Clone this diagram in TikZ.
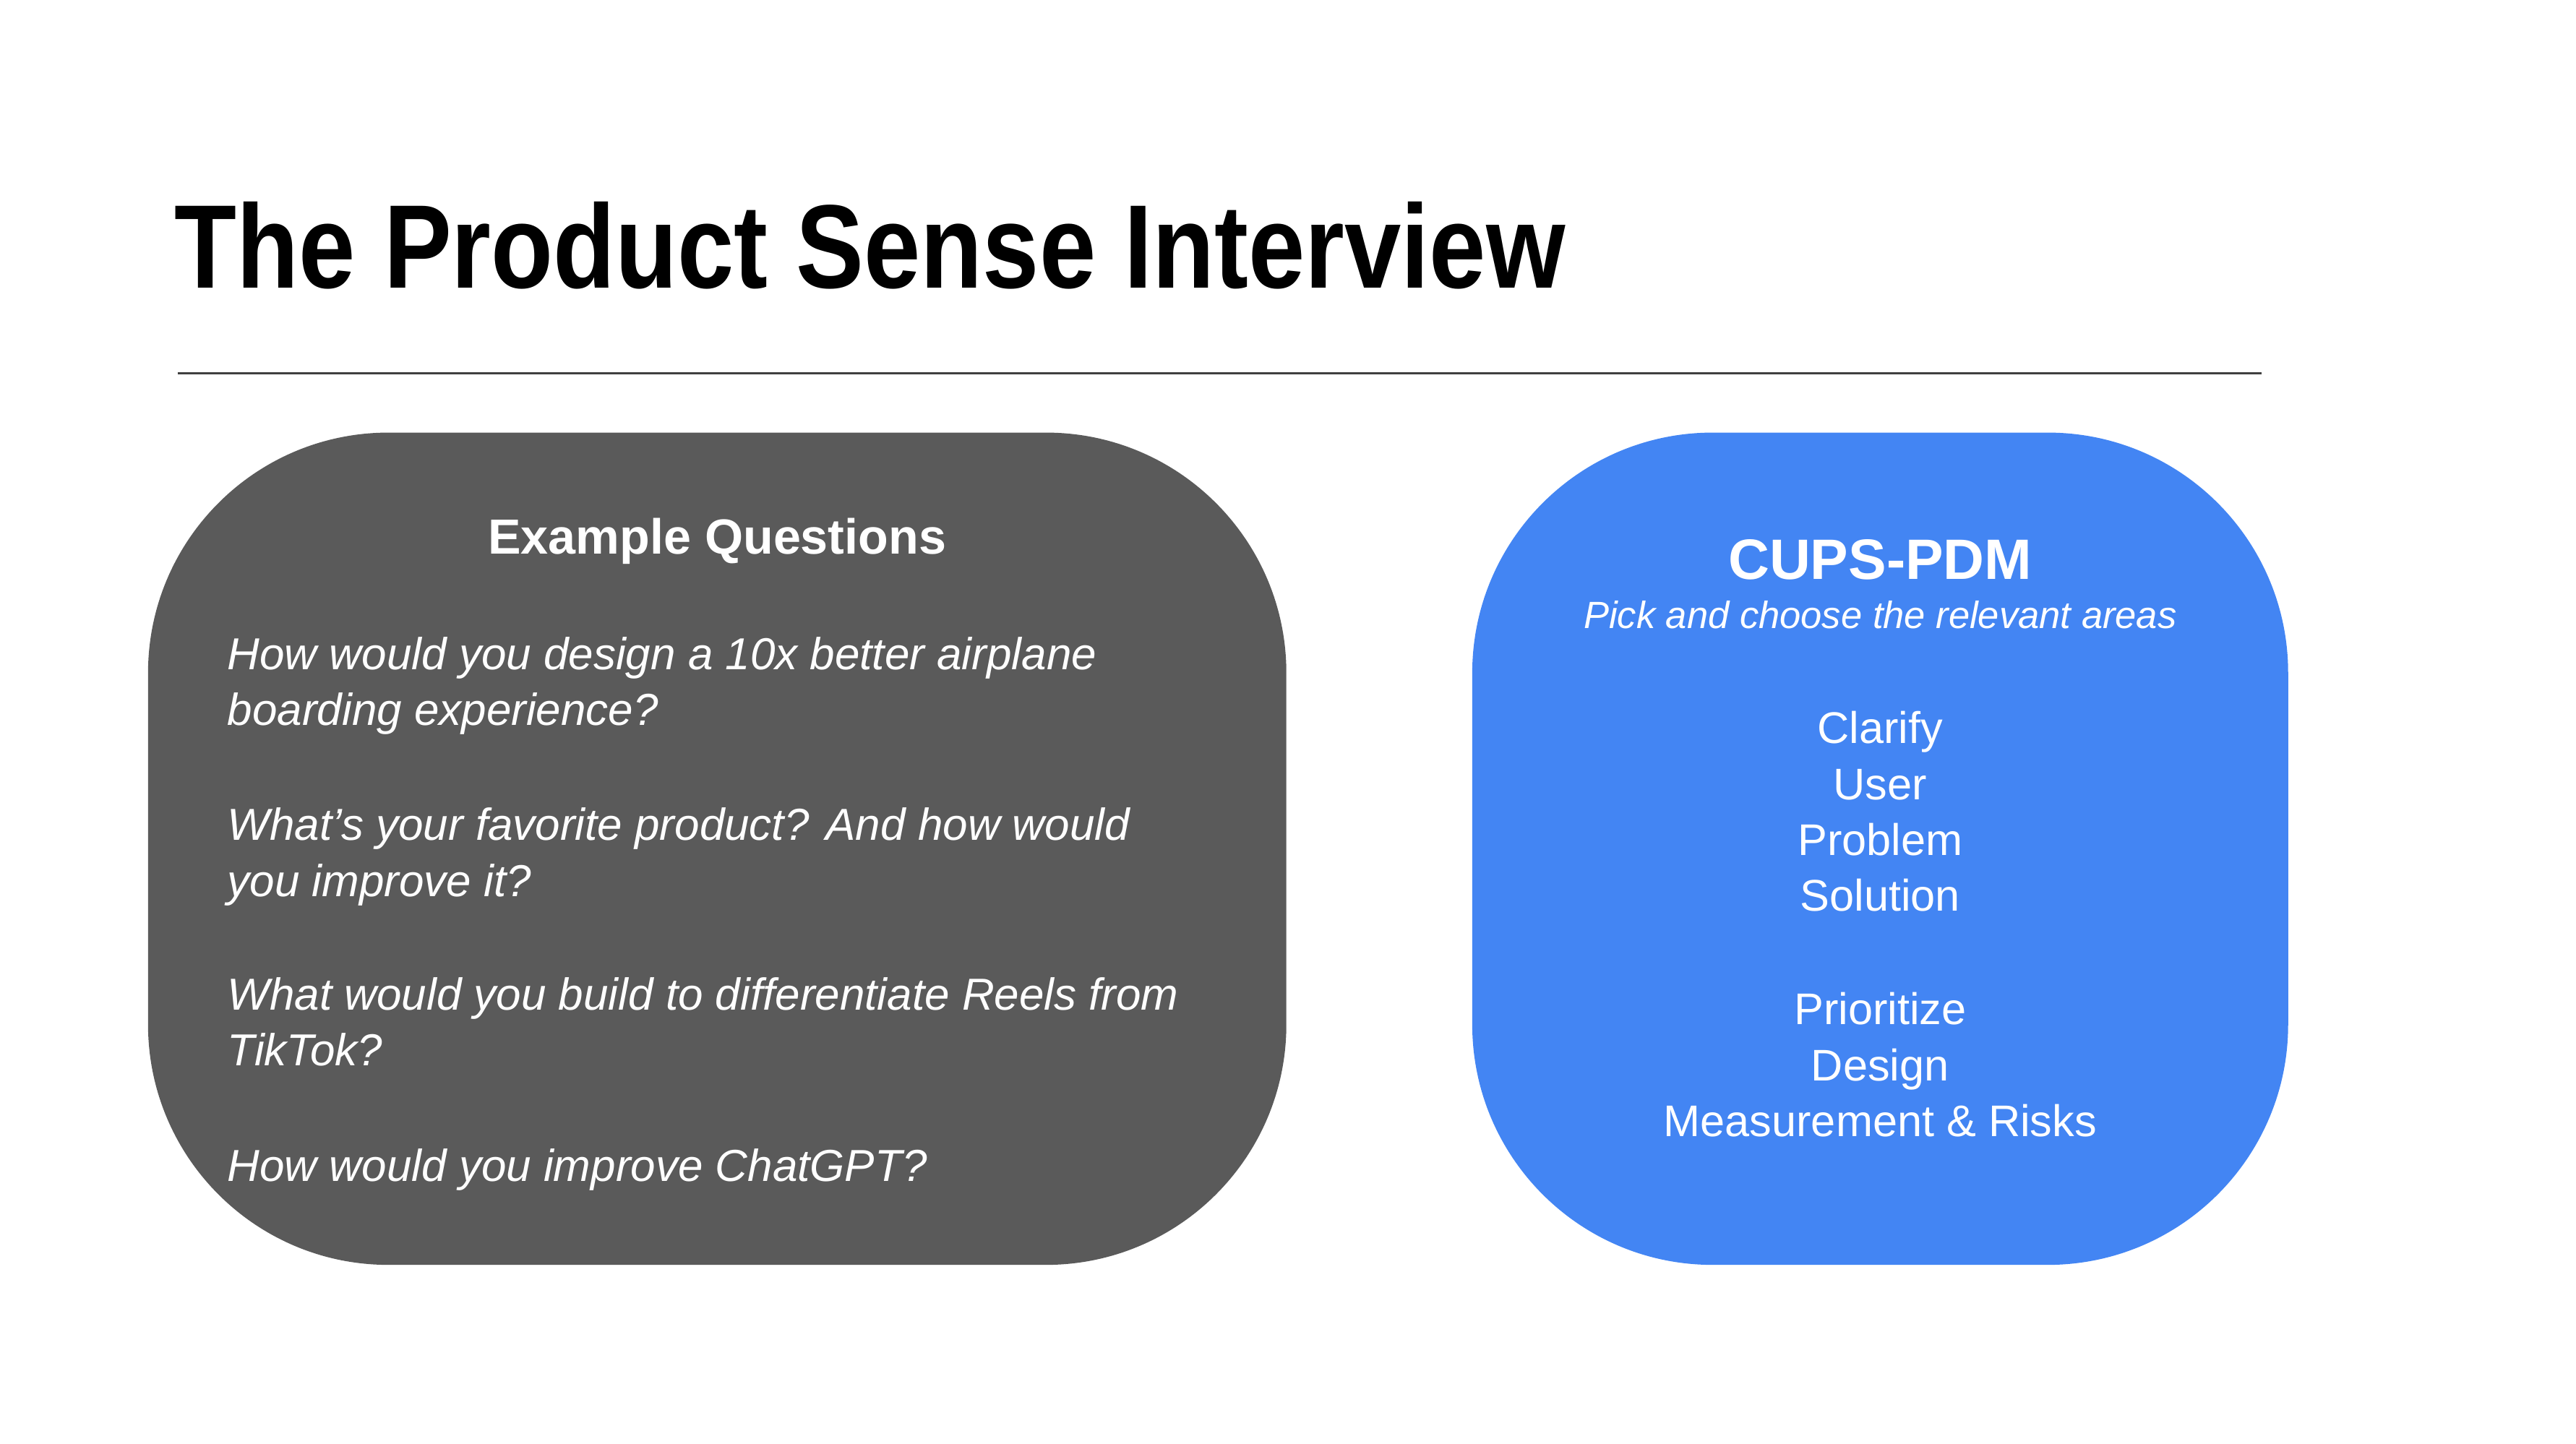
\documentclass[tikz,border=0pt]{standalone}
\usepackage{fontspec}
\setmainfont{Liberation Sans}
\definecolor{boxgray}{HTML}{5A5A5A}
\definecolor{boxblue}{HTML}{4385F3}
\begin{document}
\begin{tikzpicture}[x=0.022846cm,y=-0.022846cm,
  q/.style={anchor=base west,inner sep=0,text=white,font=\fontsize{17.7}{22}\selectfont\itshape},
  it/.style={anchor=base,inner sep=0,text=white,font=\fontsize{17.5}{22}\selectfont}]
\useasboundingbox (0,0) rectangle (1566,877.9);
\node[anchor=base west,inner sep=0,font=\fontsize{47}{56}\selectfont\bfseries] (title) at (106,175) {\scalebox{0.855}[1]{The Product Sense Interview}};
\coordinate (l1) at (108,227); \coordinate (l2) at (1375,227);
\draw[line width=0.8pt,black!75] (l1) -- (l2);
\fill[boxgray,rounded corners=95] (90,263) rectangle (782,769);
\fill[boxblue,rounded corners=95] (895,263) rectangle (1391,769);
\node[anchor=base,inner sep=0,text=white,font=\fontsize{19.5}{24}\selectfont\bfseries] (eq) at (436,337) {Example Questions};
\node[q] (q1a) at (138,407) {How would you design a 10x better airplane};
\node[q] (q1b) at (138,441) {boarding experience?};
\node[q] (q2a) at (138,511) {What’s your favorite product? And how would};
\node[q] (q2b) at (138,545) {you improve it?};
\node[q] (q3a) at (138,614) {What would you build to differentiate Reels from};
\node[q] (q3b) at (138,648) {TikTok?};
\node[q] (q4) at (138,718) {How would you improve ChatGPT?};
\node[anchor=base,inner sep=0,text=white,font=\fontsize{22.5}{28}\selectfont\bfseries] (cups) at (1143,352) {CUPS-PDM};
\node[anchor=base,inner sep=0,text=white,font=\fontsize{15}{19}\selectfont\itshape] (pick) at (1143,382) {Pick and choose the relevant areas};
\node[it] (i1) at (1143,452) {Clarify};
\node[it] (i2) at (1143,486) {User};
\node[it] (i3) at (1143,520) {Problem};
\node[it] (i4) at (1143,554) {Solution};
\node[it] (i5) at (1143,623) {Prioritize};
\node[it] (i6) at (1143,657) {Design};
\node[it] (i7) at (1143,691) {Measurement \& Risks};
\end{tikzpicture}
\end{document}
